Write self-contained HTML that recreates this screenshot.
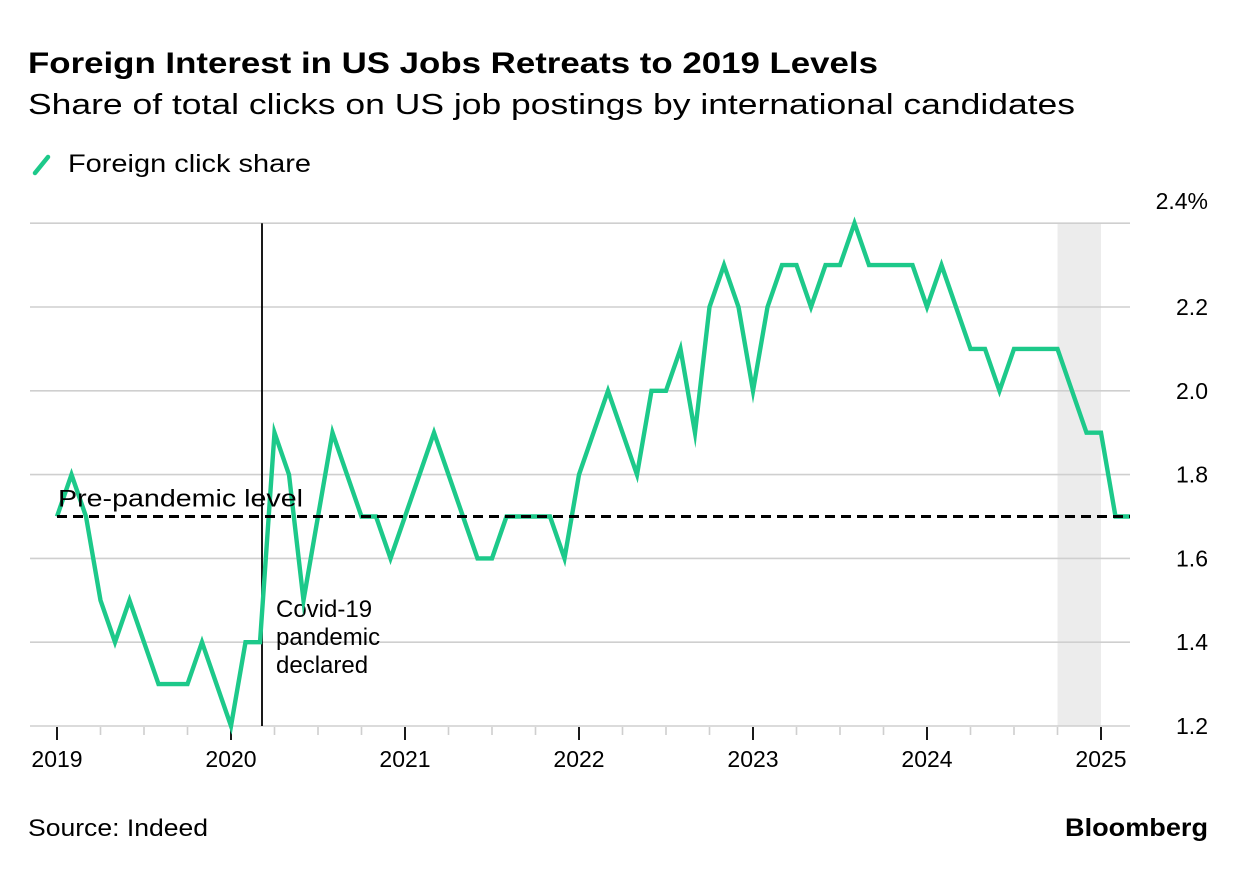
<!DOCTYPE html>
<html><head><meta charset="utf-8">
<style>
body{margin:0;background:#fff;width:1237px;height:868px;overflow:hidden;font-family:"Liberation Sans",Arial,sans-serif;}
svg text{font-family:"Liberation Sans",Arial,sans-serif;}
</style></head>
<body>
<svg id="chart" width="1237" height="868" viewBox="0 0 1237 868" xmlns="http://www.w3.org/2000/svg">
<text x="28" y="73" font-size="30" font-weight="bold" fill="#000" textLength="850" lengthAdjust="spacingAndGlyphs">Foreign Interest in US Jobs Retreats to 2019 Levels</text>
<text x="28" y="114" font-size="29" fill="#000" textLength="1047" lengthAdjust="spacingAndGlyphs">Share of total clicks on US job postings by international candidates</text>
<g>
<line x1="35" y1="173" x2="48" y2="157" stroke="#1dc98a" stroke-width="4.5" stroke-linecap="round"/>
<text x="68" y="172" font-size="25" fill="#000" textLength="243" lengthAdjust="spacingAndGlyphs">Foreign click share</text>
</g>
<g id="plot"></g>
<text x="28" y="836" font-size="24" fill="#000" textLength="180" lengthAdjust="spacingAndGlyphs">Source: Indeed</text>
<text x="1065" y="836" font-size="25" font-weight="bold" fill="#000" textLength="143" lengthAdjust="spacingAndGlyphs">Bloomberg</text>
</svg>
<script>
const yearLabels = ["2019","2020","2021","2022","2023","2024","2025"];
const yTicks = [1.2,1.4,1.6,1.8,2.0,2.2,2.4];
const clickShare = [
1.7,1.8,1.7,1.5,1.4,1.5,1.4,1.3,1.3,1.3,1.4,1.3,
1.2,1.4,1.4,1.9,1.8,1.5,1.7,1.9,1.8,1.7,1.7,1.6,
1.7,1.8,1.9,1.8,1.7,1.6,1.6,1.7,1.7,1.7,1.7,1.6,
1.8,1.9,2.0,1.9,1.8,2.0,2.0,2.1,1.9,2.2,2.3,2.2,
2.0,2.2,2.3,2.3,2.2,2.3,2.3,2.4,2.3,2.3,2.3,2.3,
2.2,2.3,2.2,2.1,2.1,2.0,2.1,2.1,2.1,2.1,2.0,1.9,
1.9,1.7,1.7];
const prePandemicLevel = [1.7];
const covidMonthIndex = [14];
const shadeMonths = [69,72];

const NS="http://www.w3.org/2000/svg";
const plot=document.getElementById('plot');
const x0=57, monthW=14.5, gridL=30, gridR=1130;
const xS=i=>x0+i*monthW;
const yS=v=>726-(v-1.2)*419;
function mk(tag,attrs,parent){const e=document.createElementNS(NS,tag);for(const k in attrs)e.setAttribute(k,attrs[k]);(parent||plot).appendChild(e);return e;}

const sh=mk('rect',{x:xS(shadeMonths[0]),y:yS(2.4),width:xS(shadeMonths[1])-xS(shadeMonths[0]),height:yS(1.2)-yS(2.4),fill:'#ececec'});



yTicks.forEach(v=>{
  const g=mk('line',{x1:gridL,x2:gridR,y1:yS(v),y2:yS(v),stroke:'#cfcfcf','stroke-width':1.6});
  
  
  const t=mk('text',{x:1208,y:yS(v)-(v===2.4?14:-8),'font-size':23,'text-anchor':'end',fill:'#000'});
  t.textContent=v===2.4?'2.4%':v.toFixed(1);
  
  
});

for(let q=0;q<=24;q++){
  const x=xS(q*3), major=q%4===0;
  const tk=mk('line',{x1:x,x2:x,y1:yS(1.2)+1,y2:yS(1.2)+(major?14:9),stroke:major?'#000':'#cfcfcf','stroke-width':major?1.8:1.6});
  
  
}
yearLabels.forEach((lab,k)=>{
  const t=mk('text',{x:xS(k*12),y:767,'font-size':23,'text-anchor':'middle',fill:'#000'});
  t.textContent=lab;
  
  
});

const cl=mk('line',{x1:xS(covidMonthIndex[0])+2,x2:xS(covidMonthIndex[0])+2,y1:yS(2.4),y2:yS(1.2),stroke:'#000','stroke-width':1.8});


['Covid-19','pandemic','declared'].forEach((s,k)=>{
  const t=mk('text',{x:276,y:617+k*28,'font-size':24,fill:'#000'});
  t.textContent=s;
  
  
});

const pts=clickShare.map((v,i)=>xS(i)+','+yS(v)).join(' ');
const pl=mk('polyline',{points:pts,fill:'none',stroke:'#1dc98a','stroke-width':4.4,'stroke-linejoin':'miter','stroke-miterlimit':10});



const dl=mk('line',{x1:xS(0),x2:xS(clickShare.length-1),y1:yS(prePandemicLevel[0]),y2:yS(prePandemicLevel[0]),stroke:'#000','stroke-width':3,'stroke-dasharray':'10 6'});


const pt=mk('text',{x:58,y:yS(prePandemicLevel[0])-10,'font-size':24,fill:'#000',textLength:245,lengthAdjust:'spacingAndGlyphs'});
pt.textContent='Pre-pandemic level';


</script>
</body></html>
